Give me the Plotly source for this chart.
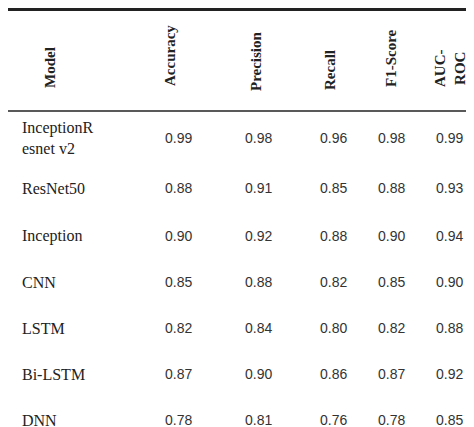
import plotly.graph_objects as go

# données du tableau
models = ["InceptionR<br>esnet v2", "ResNet50", "Inception", "CNN", "LSTM", "Bi-LSTM", "DNN"]
headers = ["Accuracy", "Precision", "Recall", "F1-Score", "AUC-<br>ROC"]
accuracy = [0.99, 0.88, 0.90, 0.85, 0.82, 0.87, 0.78]
precision = [0.98, 0.91, 0.92, 0.88, 0.84, 0.90, 0.81]
recall = [0.96, 0.85, 0.88, 0.82, 0.80, 0.86, 0.76]
f1_score = [0.98, 0.88, 0.90, 0.85, 0.82, 0.87, 0.78]
auc_roc = [0.99, 0.93, 0.94, 0.90, 0.88, 0.92, 0.85]

W, H = 474, 427
col_x = [170, 250, 325, 383, 441]
head_x = [162, 248, 322, 383, 442]
head_y = [48, 53, 62, 50, 60]
row_y = [130, 180, 228, 274, 320, 366, 412]
font = dict(family="Liberation Serif", size=15, color="#222")

fig = go.Figure()
ann = []
ann.append(dict(x=42, y=60, text="<b>Model</b>", textangle=-90, showarrow=False,
                font=font))
for x, y, h in zip(head_x, head_y, headers):
    ann.append(dict(x=x, y=y, text="<b>" + h + "</b>", textangle=-90,
                    showarrow=False, font=font))
cols = [accuracy, precision, recall, f1_score, auc_roc]
for i, m in enumerate(models):
    ann.append(dict(x=12, y=row_y[i], text=m, xanchor="left", yanchor="middle",
                    align="left", showarrow=False, font=dict(family="Liberation Serif", size=16, color="#222")))
    for x, c in zip(col_x, cols):
        ann.append(dict(x=x, y=row_y[i], text="%.2f" % c[i], showarrow=False,
                        font=dict(family="Liberation Sans", size=14, color="#333")))

shapes = [
    dict(type="line", x0=0, x1=W, y0=1.5, y1=1.5, line=dict(color="#222", width=3)),
    dict(type="line", x0=0, x1=W, y0=103, y1=103, line=dict(color="#222", width=1.5)),
    dict(type="line", x0=0, x1=W, y0=425, y1=425, line=dict(color="#222", width=1.5)),
]

fig.update_layout(
    width=W, height=H, margin=dict(l=0, r=0, t=0, b=0),
    plot_bgcolor="white", paper_bgcolor="white",
    xaxis=dict(range=[0, W], visible=False, fixedrange=True),
    yaxis=dict(range=[H, 0], visible=False, fixedrange=True),
    annotations=ann, shapes=shapes, showlegend=False,
)
fig.write_html("out.html")
